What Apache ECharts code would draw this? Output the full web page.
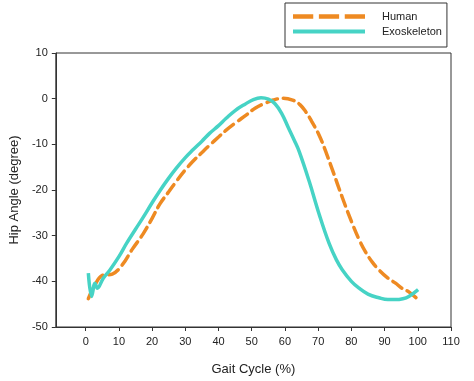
<!DOCTYPE html>
<html>
<head>
<meta charset="utf-8">
<script src="https://cdn.jsdelivr.net/npm/echarts@6/dist/echarts.min.js"></script>
<style>html,body{margin:0;padding:0;background:#fff;}#c{width:474px;height:381px;}</style>
</head>
<body>
<div id="c"></div>
<script>
const xTicks = [0, 10, 20, 30, 40, 50, 60, 70, 80, 90, 100, 110];
const humanX = [0.8, 2.5, 5, 8, 11, 14, 17.3, 20, 22.3, 25, 27.3, 30, 32.3, 35, 37.3, 40, 42.3, 45.3, 48.3, 51, 54, 56.5, 59.5, 62.3, 64.5, 66.3, 68, 70.3, 72.3, 74.3, 77.3, 80.3, 82.3, 84.3, 86.3, 88.3, 91, 93.3, 95, 97.3, 100.1];
const humanY = [-43.8, -41.2, -38.7, -38.4, -36.4, -33, -29.6, -26.2, -23.1, -20.4, -18.1, -15.6, -13.7, -11.8, -10.2, -8.4, -6.9, -5.2, -3.6, -2.1, -1.0, -0.3, 0.1, -0.3, -1.3, -2.9, -4.9, -8, -11.6, -15.6, -21.7, -27.4, -30.8, -33.6, -35.8, -37.5, -39.3, -40.4, -41.4, -42.3, -44];
const exoX = [0.8, 1.8, 2.8, 3.5, 5.3, 7.3, 10, 12.3, 15, 17.3, 20, 22.3, 25, 27.3, 30, 32.3, 35, 37.3, 40, 42.3, 45, 48, 50.5, 52.8, 55, 57, 59, 61, 62.8, 64.3, 67.3, 70.3, 73.3, 75.5, 77.3, 80, 82.3, 85, 88.3, 91, 93.3, 95.5, 97.3, 100.1];
const exoY = [-38.2, -43.3, -40.4, -41.5, -39.3, -37.5, -34.6, -31.7, -28.6, -26, -22.8, -20.2, -17.4, -15.2, -12.9, -11.2, -9.3, -7.6, -5.9, -4.3, -2.6, -1.2, -0.2, 0.2, -0.1, -1.1, -3.2, -6.3, -9.1, -11.6, -18.1, -25.3, -31.7, -35.3, -37.5, -40, -41.5, -42.8, -43.6, -44, -44, -43.8, -43.3, -41.8];

const zip = (xs, ys) => xs.map((x, i) => [x, ys[i]]);
const chart = echarts.init(document.getElementById('c'));
const txt = '#222';
const font = 'Liberation Sans, Arial, sans-serif';
chart.setOption({
  animation: false,
  backgroundColor: '#fff',
  grid: { left: 53, right: 23, top: 53, bottom: 50, show: true, borderColor: '#333', borderWidth: 1, backgroundColor: 'transparent' },
  legend: {
    orient: 'vertical', left: 285, top: 3,
    padding: [8, 5, 10, 8], itemGap: 4,
    itemWidth: 72, itemHeight: 14,
    borderColor: '#333', borderWidth: 1,
    textStyle: { fontFamily: font, fontSize: 11, color: txt, padding: [0, 0, 0, 12] },
    data: [
      { name: 'Human', icon: 'path://M0,0h18v4h-18z M23,0h18v4h-18z M46,0h18v4h-18z' },
      { name: 'Exoskeleton', icon: 'path://M0,0h72v4h-72z' }
    ]
  },
  xAxis: {
    type: 'value', min: -9, max: 110,
    name: 'Gait Cycle (%)', nameLocation: 'middle', nameGap: 36,
    nameTextStyle: { fontFamily: font, fontSize: 13, color: txt },
    axisLine: { onZero: false, lineStyle: { color: '#333', width: 1 } },
    axisTick: { show: true, length: 4, customValues: xTicks, lineStyle: { color: '#333' } },
    axisLabel: { customValues: xTicks, margin: 9, fontFamily: font, fontSize: 11, color: txt },
    splitLine: { show: false }
  },
  yAxis: {
    type: 'value', min: -50, max: 10, interval: 10,
    name: 'Hip Angle (degree)', nameLocation: 'middle', nameGap: 34, nameRotate: 90,
    nameTextStyle: { fontFamily: font, fontSize: 13, color: txt },
    axisLine: { show: true, onZero: false, lineStyle: { color: '#333', width: 1 } },
    axisTick: { show: true, length: 4, lineStyle: { color: '#333' } },
    axisLabel: { margin: 8, fontFamily: font, fontSize: 11, color: txt },
    splitLine: { show: false }
  },
  series: [
    { name: 'Human', type: 'line', data: zip(humanX, humanY), smooth: 0.4, showSymbol: false, symbol: 'none',
      lineStyle: { color: '#ee8a22', width: 3.5, type: [11, 6], cap: 'round' }, itemStyle: { color: '#ee8a22' }, z: 2 },
    { name: 'Exoskeleton', type: 'line', data: zip(exoX, exoY), smooth: 0.4, showSymbol: false, symbol: 'none',
      lineStyle: { color: '#46d3c5', width: 3.5 }, itemStyle: { color: '#46d3c5' }, z: 3 }
  ]
});
</script>
</body>
</html>
